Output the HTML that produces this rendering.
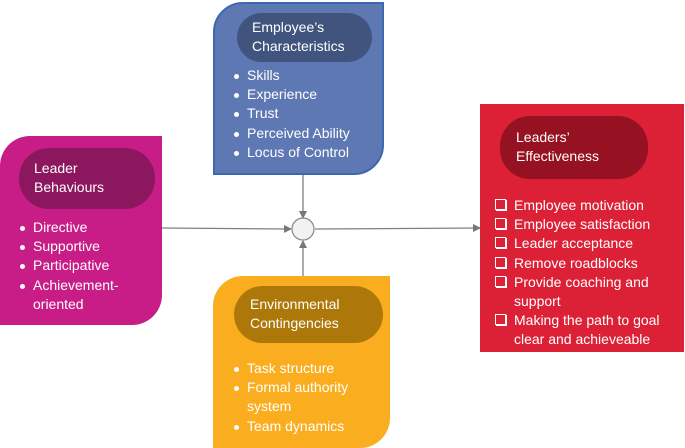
<!DOCTYPE html>
<html><head><style>
body{margin:0;width:685px;height:448px;background:#fff;position:relative;overflow:hidden;font-family:"Liberation Sans",sans-serif;color:#fff}
.b{position:absolute;box-sizing:border-box}
.p{position:absolute;border-radius:30px;font-size:14px;line-height:19px;box-sizing:border-box}
.t{position:absolute;font-size:14px;line-height:19.2px;white-space:nowrap}
.t div{position:relative}
.d div:before{content:"";position:absolute;left:-13px;top:8px;width:5px;height:5px;border-radius:50%;background:#fff}
.c div:before{content:"";position:absolute;left:-19px;top:3px;width:9px;height:9px;border:1.5px solid #fff;box-shadow:1px 1px 0 #fff}
.n:before{display:none}
</style></head><body>
<svg class="b" style="left:0;top:0" width="685" height="448">
<defs><marker id="a" markerWidth="8" markerHeight="8" refX="7" refY="4" orient="auto" markerUnits="userSpaceOnUse"><path d="M0,0 L8,4 L0,8z" fill="#777"/></marker></defs>
<g stroke="#808080" stroke-width="1.3" fill="none">
<line x1="162" y1="228" x2="291" y2="229" marker-end="url(#a)"/>
<line x1="303" y1="174" x2="303" y2="218" marker-end="url(#a)"/>
<line x1="303" y1="276" x2="303" y2="241" marker-end="url(#a)"/>
<line x1="315" y1="229" x2="480" y2="228" marker-end="url(#a)"/>
</g>
<circle cx="303" cy="229" r="11" fill="#f2f2f2" stroke="#888" stroke-width="1.2"/>
</svg>
<div class="b" style="left:213px;top:2px;width:171px;height:173px;background:#5e78b3;border:2px solid #3d68b0;border-radius:30px 0 30px 0"></div>
<div class="p" style="left:237px;top:13px;width:135px;height:49px;background:#41547e;padding:5px 0 0 15px">Employee’s<br>Characteristics</div>
<div class="t d" style="left:247px;top:66px"><div>Skills</div><div>Experience</div><div>Trust</div><div>Perceived Ability</div><div>Locus of Control</div></div>

<div class="b" style="left:0;top:136px;width:162px;height:189px;background:#c81d87;border-radius:30px 0 30px 0"></div>
<div class="p" style="left:19px;top:148px;width:136px;height:61px;background:#8d175f;padding:11px 0 0 15px">Leader<br>Behaviours</div>
<div class="t d" style="left:33px;top:218px"><div>Directive</div><div>Supportive</div><div>Participative</div><div>Achievement-</div><div class="n">oriented</div></div>

<div class="b" style="left:213px;top:276px;width:177px;height:172px;background:#f9ad1f;border-radius:30px 0 30px 0"></div>
<div class="p" style="left:234px;top:286px;width:149px;height:57px;background:#ae7709;padding:9px 0 0 16px">Environmental<br>Contingencies</div>
<div class="t d" style="left:247px;top:359px"><div>Task structure</div><div>Formal authority</div><div class="n">system</div><div>Team dynamics</div></div>

<div class="b" style="left:480px;top:104px;width:204px;height:248px;background:#dc2137"></div>
<div class="p" style="left:500px;top:116px;width:148px;height:63px;background:#961121;padding:12px 0 0 16px">Leaders’<br>Effectiveness</div>
<div class="t c" style="left:514px;top:196px"><div>Employee motivation</div><div>Employee satisfaction</div><div>Leader acceptance</div><div>Remove roadblocks</div><div>Provide coaching and</div><div class="n">support</div><div>Making the path to goal</div><div class="n">clear and achieveable</div></div>
</body></html>
